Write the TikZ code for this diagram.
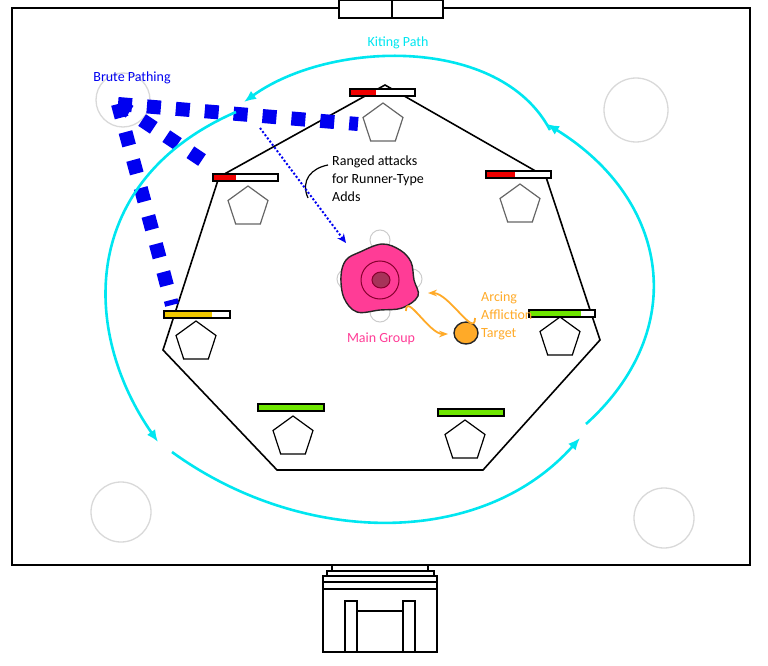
\documentclass[tikz,border=0pt]{standalone}
\usepackage{fontspec}
\setmainfont{Carlito}
\usetikzlibrary{arrows.meta,shapes.geometric}
\definecolor{kite}{RGB}{0,230,240}
\definecolor{brute}{RGB}{0,0,240}
\definecolor{pinkb}{RGB}{255,60,150}
\definecolor{orng}{RGB}{255,170,40}
\definecolor{hpred}{RGB}{240,0,0}
\definecolor{hpgreen}{RGB}{110,230,0}
\definecolor{hpyel}{RGB}{240,200,0}
\begin{document}
\begin{tikzpicture}[x=1pt,y=-1pt,
  wall/.style={draw=black,line width=1.6pt},
  pil/.style={draw=gray!30,line width=1.3pt,fill=white},
  pent/.style={line width=1.2pt},
  kitepath/.style={draw=kite,line width=2.6pt,-{Latex[length=12pt,width=10pt]}},
  brutep/.style={draw=brute,line width=14pt,dash pattern=on 14pt off 15pt},
  lbl/.style={font=\fontsize{14}{18}\selectfont,align=left,inner sep=0}]
\useasboundingbox (0,0) rectangle (768,666);
% room
\draw[wall] (12,8) rectangle (750,565);
\draw[wall,fill=white] (339,0) rectangle (443,18);
\draw[wall] (392,0) -- (392,18);
% bottom door
\draw[wall,fill=white] (332,565) rectangle (428,571);
\draw[wall,fill=white] (327,571) rectangle (434,576);
\draw[wall,fill=white] (323,576) rectangle (437,652);
\draw[wall] (323,582) -- (437,582) (323,589) -- (437,589);
\draw[wall] (345,652) -- (345,601) -- (357,601) -- (357,652);
\draw[wall] (403,652) -- (403,601) -- (415,601) -- (415,652);
\draw[wall] (357,611) -- (403,611);
% corner pillars
\node[pil,circle,minimum size=54pt,inner sep=0] (c1) at (123,100) {};
\node[pil,circle,minimum size=64pt,inner sep=0] (c2) at (636,110) {};
\node[pil,circle,minimum size=60pt,inner sep=0] (c3) at (121,512) {};
\node[pil,circle,minimum size=60pt,inner sep=0] (c4) at (664,518) {};
% platform
\draw[line width=1.6pt] (385,85) -- (219,177) -- (163,350) -- (277,470) -- (483,470) -- (600,340) -- (546,177) -- cycle;
% pentagons
\foreach \x/\y/\c in {383/124/gray!80!black,248/207/gray!80!black,520/205/gray!80!black,196/342/black,560/338/black,293/437/black,465/441/black}
  \draw[pent,draw=\c] (\x,\y-21) -- (\x+20,\y-6.5) -- (\x+12.3,\y+17) -- (\x-12.3,\y+17) -- (\x-20,\y-6.5) -- cycle;
% health bars
\foreach \a/\b/\y/\f/\c in {350/415/89/376/hpred,213/278/174/236/hpred,486/551/171/515/hpred,164/230/311/212/hpyel,529/595/310/581/hpgreen,258/324/404/324/hpgreen,438/504/409/504/hpgreen}{
  \fill[white] (\a,\y) rectangle (\b,\y+7);
  \fill[\c] (\a,\y) rectangle (\f,\y+7);
  \draw[line width=1.2pt] (\a,\y) rectangle (\b,\y+7);}
% center group
\foreach \x/\y in {380/240,347/279,412/279,380/312}
  \draw[gray!40,line width=1pt] (\x,\y) circle (10);
\draw[fill=pinkb,draw=gray!30!black,line width=1.4pt] plot[smooth cycle,tension=0.6] coordinates {(360,252)(382,244)(400,250)(411,262)(414,280)(418,296)(402,308)(380,310)(357,312)(344,298)(341,276)(346,260)};
\draw[draw=purple!70!black,line width=1pt] (380,280) circle (19);
\draw[fill=purple!60!gray,draw=purple!70!black,line width=1pt] (381,280) ellipse (9 and 8);
\node[draw=gray!30!black,fill=orng,line width=1.4pt,ellipse,minimum width=24pt,minimum height=22pt,inner sep=0] (tgt) at (466,333) {};
\draw[orng,line width=1.8pt,-{Stealth[length=9pt]}] (475,318) to[out=-90,in=0] (428,293);
\draw[orng,line width=1.8pt,-{Stealth[length=9pt]}] (406,311) to[out=90,in=180] (448,334);
\node[lbl,text=pinkb] (mg) at (381,339) {Main Group};
\node[lbl,text=orng,anchor=north west] (arc) at (481,292) {Arcing\\Affliction\\Target};
% ranged attacks
\node[lbl,anchor=north west] (ra) at (332,156) {Ranged attacks\\for Runner-Type\\Adds};
\coordinate (rb1) at (328,165);
\coordinate (rb2) at (308,198);
\draw[line width=1.2pt] (rb1) .. controls (312,168) and (300,180) .. (rb2);
\coordinate (d1) at (260,128);
\coordinate (d2) at (346,243);
\draw[brute,line width=2pt,dotted,-{Stealth[length=9pt,width=8pt]}] (d1) -- (d2);
% brute pathing
\coordinate (b0) at (118,104);
\draw[brutep] (b0) -- (358,124);
\draw[brutep] (b0) -- (205,162);
\draw[brutep] (b0) .. controls (130,150) and (150,220) .. (172,305);
\node[lbl,text=brute] (bp) at (132,78) {Brute Pathing};
% kiting path
\node[lbl,text=kite] (kp) at (398,43) {Kiting Path};
\draw[kitepath] (550,130) .. controls (500,35) and (330,40) .. (244,102);
\draw[kitepath] (236,112) .. controls (80,180) and (80,330) .. (158,442);
\draw[kitepath] (172,452) .. controls (300,545) and (480,550) .. (580,438);
\draw[kitepath] (586,424) .. controls (690,330) and (670,200) .. (547,124);
\end{tikzpicture}
\end{document}
